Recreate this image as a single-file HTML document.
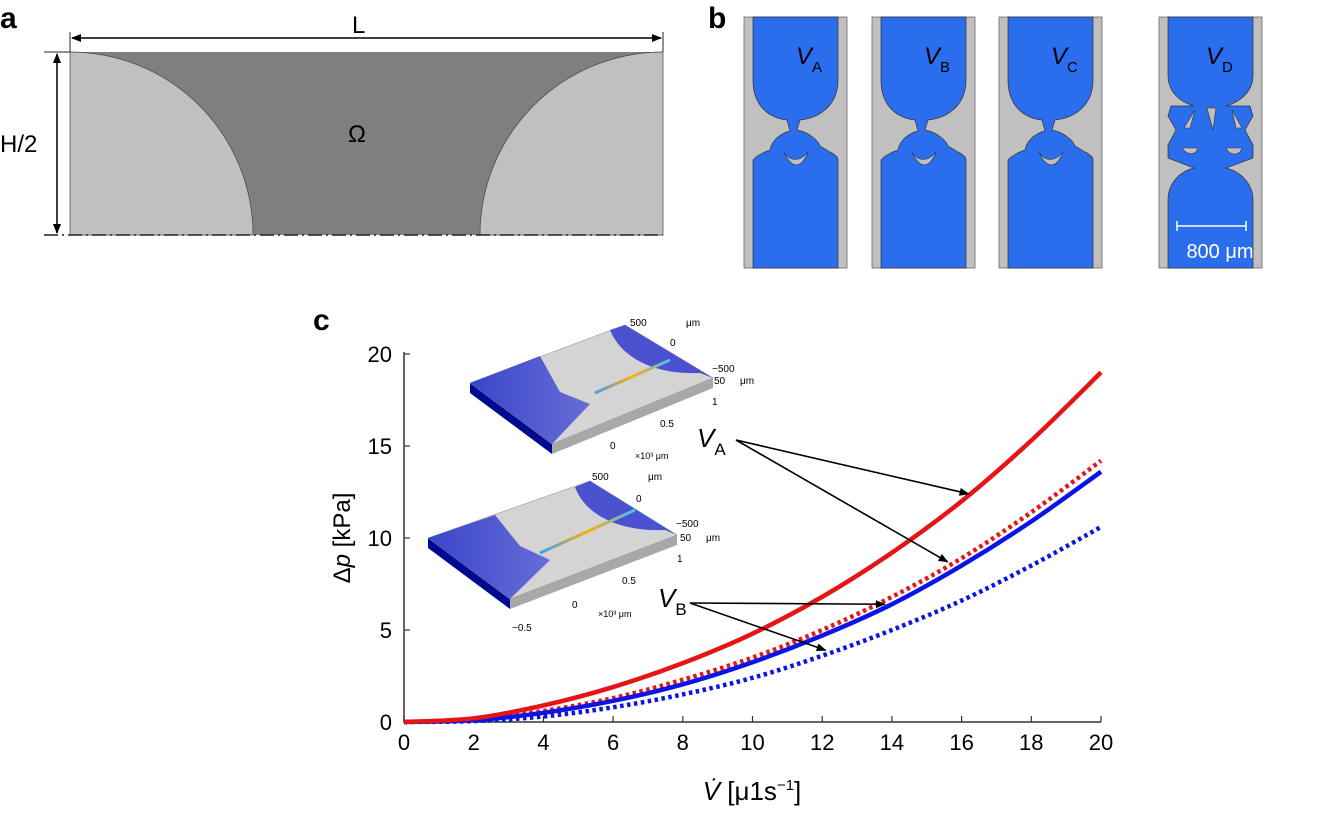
<!DOCTYPE html>
<html><head><meta charset="utf-8"><style>
body{margin:0;background:#fff}
svg text{font-family:"Liberation Sans",sans-serif}
</style></head><body>
<svg id="root" width="1323" height="809" viewBox="0 0 1323 809">
<defs>
<marker id="ah" markerWidth="10" markerHeight="8" refX="9" refY="4" orient="auto" markerUnits="userSpaceOnUse"><path d="M0,0 L10,4 L0,8 z" fill="#000"/></marker>
<marker id="ahs" markerWidth="10" markerHeight="8" refX="1" refY="4" orient="auto" markerUnits="userSpaceOnUse"><path d="M10,0 L0,4 L10,8 z" fill="#000"/></marker>
<linearGradient id="blueg" x1="0" y1="0" x2="1" y2="0"><stop offset="0" stop-color="#2a35c8"/><stop offset="1" stop-color="#5a62d8"/></linearGradient>
<linearGradient id="jet" x1="0" y1="0" x2="1" y2="0"><stop offset="0" stop-color="#3aa0ff"/><stop offset="0.5" stop-color="#ffb000"/><stop offset="1" stop-color="#40c0ff"/></linearGradient>
</defs>

<!-- Panel a -->
<g>
<text x="0" y="28" font-size="30" font-weight="bold">a</text>
<rect x="70" y="52" width="593" height="183" fill="#7f7f7f"/>
<path d="M70,52 A183,183 0 0 1 253,235 L70,235 Z" fill="#c0c0c0" stroke="#444" stroke-width="0.7"/>
<path d="M663,52 A183,183 0 0 0 480,235 L663,235 Z" fill="#c0c0c0" stroke="#444" stroke-width="0.7"/>
<line x1="44" y1="235" x2="663" y2="235" stroke="#222" stroke-width="1.5" stroke-dasharray="14,4,2,4"/>
<line x1="44" y1="52" x2="70" y2="52" stroke="#222" stroke-width="1"/>
<line x1="70" y1="32" x2="70" y2="52" stroke="#222" stroke-width="1"/>
<line x1="663" y1="32" x2="663" y2="52" stroke="#222" stroke-width="1"/>
<line x1="72" y1="38" x2="661" y2="38" stroke="#000" stroke-width="1.5" marker-end="url(#ah)" marker-start="url(#ahs)"/>
<text x="352" y="33" font-size="24">L</text>
<line x1="57" y1="54" x2="57" y2="233" stroke="#000" stroke-width="1.5" marker-end="url(#ah)" marker-start="url(#ahs)"/>
<text x="0" y="152" font-size="24">H/2</text>
<text x="348" y="142" font-size="24" font-family="Liberation Serif">Ω</text>
</g>

<!-- Panel b -->
<g>
<text x="708" y="28" font-size="30" font-weight="bold">b</text>
<g id="ch">
<rect x="744" y="17" width="103" height="251" fill="#c0c0c0" stroke="#666" stroke-width="0.8"/>
<path d="M753,17 L838,17 L838,80 C838,105 820,118 800,120 L797,130 C808,132 818,140 820,146 L830,152 C836,155 838,158 838,160 L838,268 L753,268 L753,160 C756,156 764,152 770,150 C771,143 778,134 790,131 L787,120 C768,118 753,105 753,80 Z" fill="#2a6ded" stroke="#333" stroke-width="0.7"/>
<path d="M784,152 C790,166 800,172 808,152 C800,162 790,162 784,152 Z" fill="#c0c0c0" stroke="#333" stroke-width="0.6"/>
</g>
<use href="#ch" x="128"/>
<use href="#ch" x="255"/>
<g>
<rect x="1159" y="17" width="103" height="251" fill="#c0c0c0" stroke="#666" stroke-width="0.8"/>
<path d="M1168,17 L1253,17 L1253,75 C1253,92 1240,102 1226,106 L1250,106 L1253,116 L1245,130 L1253,145 L1253,158 L1226,168 C1242,172 1253,185 1253,200 L1253,268 L1168,268 L1168,200 C1168,185 1178,172 1194,168 L1168,158 L1168,145 L1176,130 L1168,116 L1171,106 L1194,106 C1180,102 1168,92 1168,75 Z" fill="#2a6ded" stroke="#333" stroke-width="0.7"/>
<path d="M1207,108 L1213,130 L1216,108 Z M1184,128 L1195,110 L1190,128 Z M1232,110 L1242,128 L1236,128 Z M1182,148 C1188,156 1196,155 1198,148 Z M1226,148 C1230,156 1240,156 1242,148 Z" fill="#c0c0c0" stroke="#333" stroke-width="0.6"/>
<line x1="1177" y1="226" x2="1246" y2="226" stroke="#fff" stroke-width="1.5"/>
<line x1="1177" y1="221" x2="1177" y2="231" stroke="#fff" stroke-width="1.5"/>
<line x1="1246" y1="221" x2="1246" y2="231" stroke="#fff" stroke-width="1.5"/>
<text x="1220" y="258" font-size="20" fill="#fff" text-anchor="middle">800 μm</text>
</g>
<text x="796" y="64" font-size="24" font-style="italic">V<tspan font-size="15" font-style="normal" dy="8">A</tspan></text>
<text x="924" y="64" font-size="24" font-style="italic">V<tspan font-size="15" font-style="normal" dy="8">B</tspan></text>
<text x="1051" y="64" font-size="24" font-style="italic">V<tspan font-size="15" font-style="normal" dy="8">C</tspan></text>
<text x="1206" y="64" font-size="24" font-style="italic">V<tspan font-size="15" font-style="normal" dy="8">D</tspan></text>
</g>

<!-- Panel c -->
<text x="313" y="330" font-size="30" font-weight="bold">c</text>
<g id="chart"></g>

<!-- Insets -->
<g>
<polygon points="470,383 552,444 552,454 470,393" fill="#000a90"/>
<polygon points="552,444 713,378 713,388 552,454" fill="#a8a8a8"/>
<polygon points="470,383 625,325 713,378 552,444" fill="#d4d4d4" stroke="#999" stroke-width="0.6"/>
<polygon points="470,383 540,356 560,392 590,404 552,444" fill="url(#blueg)" opacity="0.9"/>
<path d="M610,330 C620,355 650,375 700,373 L713,378 L625,325 Z" fill="#4a52d0"/>
<line x1="595" y1="393" x2="670" y2="360" stroke="url(#jet)" stroke-width="3"/>
<text x="630" y="326" font-size="10">500</text><text x="686" y="326" font-size="10">μm</text>
<text x="670" y="346" font-size="10">0</text><text x="712" y="372" font-size="10">−500</text>
<text x="714" y="384" font-size="10">50</text><text x="740" y="384" font-size="10">μm</text>
<text x="712" y="405" font-size="10">1</text><text x="660" y="427" font-size="10">0.5</text>
<text x="610" y="449" font-size="10">0</text><text x="635" y="459" font-size="9">×10³ μm</text>
</g>
<g>
<polygon points="428,538 510,599 510,609 428,548" fill="#000a90"/>
<polygon points="510,599 677,535 677,545 510,609" fill="#a8a8a8"/>
<polygon points="428,538 590,481 677,535 510,599" fill="#d4d4d4" stroke="#999" stroke-width="0.6"/>
<polygon points="428,538 495,515 520,546 550,560 510,599" fill="url(#blueg)" opacity="0.9"/>
<path d="M575,487 C585,515 620,532 665,530 L677,535 L590,481 Z" fill="#4a52d0"/>
<line x1="540" y1="553" x2="635" y2="510" stroke="url(#jet)" stroke-width="3"/>
<text x="592" y="480" font-size="10">500</text><text x="648" y="480" font-size="10">μm</text>
<text x="636" y="502" font-size="10">0</text><text x="676" y="527" font-size="10">−500</text>
<text x="680" y="541" font-size="10">50</text><text x="706" y="541" font-size="10">μm</text>
<text x="677" y="562" font-size="10">1</text><text x="622" y="584" font-size="10">0.5</text>
<text x="572" y="608" font-size="10">0</text><text x="598" y="617" font-size="9">×10³ μm</text>
<text x="512" y="631" font-size="10">−0.5</text>
</g>
</svg>
<script>
const xTicks=[0,2,4,6,8,10,12,14,16,18,20];
const yTicks=[0,5,10,15,20];
const xs=[0,2,4,6,8,10,12,14,16,18,20];
const redSolid=[0,0.2,0.9,1.9,3.2,4.8,6.8,9.2,12.0,15.3,19.0];
const redDotted=[0,0.12,0.6,1.3,2.3,3.5,5.0,6.8,8.9,11.4,14.2];
const blueSolid=[0,0.1,0.5,1.15,2.05,3.25,4.7,6.4,8.5,10.9,13.6];
const blueDotted=[0,0.05,0.3,0.8,1.5,2.4,3.6,5.0,6.6,8.5,10.6];
const NS='http://www.w3.org/2000/svg';
const X0=404,X1=1101,Y0=722,Y1=354;
const sx=v=>X0+(v-0)/(20-0)*(X1-X0);
const sy=v=>Y0-(v-0)/(20-0)*(Y0-Y1);
const g=document.getElementById('chart');
function mk(t,a){const e=document.createElementNS(NS,t);for(const k in a)e.setAttribute(k,a[k]);g.appendChild(e);return e;}
let ax=mk('path',{d:`M${X0},${Y1-2} L${X0},${Y0} L${X1},${Y0}`,fill:'none',stroke:'#333','stroke-width':1.5});


xTicks.forEach(t=>{mk('line',{x1:sx(t),x2:sx(t),y1:Y0,y2:Y0-6,stroke:'#333','stroke-width':1.2});
 const tx=mk('text',{x:sx(t),y:Y0+28,'font-size':22,'text-anchor':'middle'});tx.textContent=t;
 
 });
yTicks.forEach(t=>{mk('line',{x1:X0,x2:X0+6,y1:sy(t),y2:sy(t),stroke:'#333','stroke-width':1.2});
 const tx=mk('text',{x:X0-12,y:sy(t)+8,'font-size':22,'text-anchor':'end'});tx.textContent=t;
 
 });
function curve(ys,color,dash,name){
 const n=xs.length;
 const p=xs.map((x,i)=>[sx(x),sy(ys[i])]);
 let d='M'+p[0][0]+','+p[0][1];
 for(let i=0;i<n-1;i++){const p0=p[Math.max(i-1,0)],p1=p[i],p2=p[i+1],p3=p[Math.min(i+2,n-1)];
  d+=` C${p1[0]+(p2[0]-p0[0])/6},${p1[1]+(p2[1]-p0[1])/6} ${p2[0]-(p3[0]-p1[0])/6},${p2[1]-(p3[1]-p1[1])/6} ${p2[0]},${p2[1]}`;}
 const e=mk('path',{d:d,fill:'none',stroke:color,'stroke-width':4.5});
 if(dash)e.setAttribute('stroke-dasharray',dash);
 
 
}
curve(blueDotted,'#0a14e6','3.5,3.5','series-vb-dotted');
curve(redDotted,'#e61414','3.5,3.5','series-va-dotted');
curve(blueSolid,'#0a14e6',null,'series-vb-solid');
curve(redSolid,'#e61414',null,'series-va-solid');
function arrow(x1,y1,x,y){const e=mk('line',{x1:x1,y1:y1,x2:sx(x),y2:sy(y),stroke:'#000','stroke-width':1.6,'marker-end':'url(#ah)'});
 
 }
arrow(736,440,16.2,12.4);arrow(736,440,15.6,8.7);
arrow(690,603,13.8,6.4);arrow(690,603,12.1,3.9);
const yl=mk('text',{x:0,y:0,'font-size':24,'text-anchor':'middle',transform:'translate(350,538) rotate(-90)'});
yl.innerHTML='Δ<tspan font-style="italic">p</tspan> [kPa]';


const xl=mk('text',{x:752,y:800,'font-size':26,'text-anchor':'middle'});
xl.innerHTML='<tspan font-style="italic">V̇</tspan> [μ1s<tspan font-size="15" dy="-10">−1</tspan><tspan dy="10">]</tspan>';


const la=mk('text',{x:697,y:447,'font-size':26,'font-style':'italic'});la.innerHTML='V<tspan font-size="17" font-style="normal" dy="8">A</tspan>';


const lb=mk('text',{x:658,y:607,'font-size':26,'font-style':'italic'});lb.innerHTML='V<tspan font-size="17" font-style="normal" dy="8">B</tspan>';


</script>
</body></html>
